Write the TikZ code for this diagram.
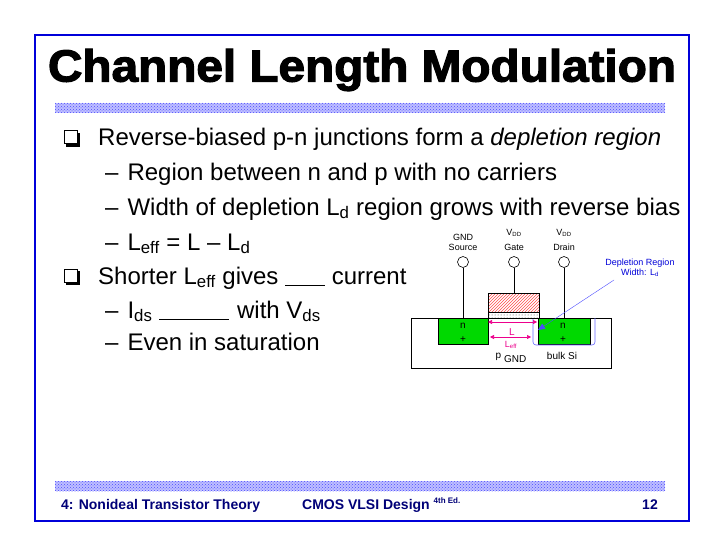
\documentclass[tikz,border=0pt]{standalone}
\usepackage{fontspec}
\setmainfont{Liberation Sans}
\newfontfamily\titlefont[FakeBold=2.5]{Liberation Sans Bold}
\usetikzlibrary{patterns,arrows.meta}
\definecolor{navy}{RGB}{0,0,120}
\begin{document}
\begin{tikzpicture}[x=1pt,y=-1pt,
  body/.style={anchor=base west,inner sep=0,font=\fontsize{24}{26}\selectfont},
  small/.style={inner sep=0,font=\fontsize{9}{10}\selectfont},
  hbar/.style={pattern=crosshatch dots,pattern color=blue!70!white},
  sq/.style={line width=1pt},
  foot/.style={inner sep=0,font=\fontsize{14}{15}\selectfont\bfseries,navy},
  mag/.style={magenta,{Triangle[length=4pt,width=4pt]}-{Triangle[length=4pt,width=4pt]},line width=0.6pt}]
\useasboundingbox (0,0) rectangle (720,540);
\fill[white] (0,0) rectangle (720,540);
\draw[blue!85!black,line width=2.5pt] (35,35) rectangle (689,521);
\node[inner sep=0,font=\fontsize{45}{50}\selectfont\titlefont,xscale=1.06] (title) at (362,70) {Channel Length Modulation};
\fill[blue!25] (55,103) rectangle (665,113);
\path[hbar] (55,103) rectangle (665,113);
\fill[blue!25] (55,481) rectangle (665,491);
\path[hbar] (55,481) rectangle (665,491);
% bullets
\fill (66,133) rectangle (80,147);
\draw[sq,fill=white] (64,131) rectangle (77,144);
\node[body] (t1) at (98,146) {Reverse-biased p-n junctions form a \textit{depletion region}};
\node[body] (t2) at (105,181) {–\hspace{9pt}Region between n and p with no carriers};
\node[body] (t3) at (105,215) {–\hspace{9pt}Width of depletion L\textsubscript{d} region grows with reverse bias};
\node[body] (t4) at (105,250) {–\hspace{9pt}L\textsubscript{eff} = L – L\textsubscript{d}};
\fill (66,271) rectangle (80,285);
\draw[sq,fill=white] (64,269) rectangle (77,282);
\node[body] (t5) at (98,284) {Shorter L\textsubscript{eff} gives \underline{\hspace{40pt}} current};
\node[body] (t6) at (105,318) {–\hspace{9pt}I\textsubscript{ds} \underline{\hspace{70pt}}\hspace{8pt}with V\textsubscript{ds}};
\node[body] (t7) at (105,350) {–\hspace{9pt}Even in saturation};
% transistor
\draw[line width=0.6pt] (411,318) rectangle (611,368);
\draw[line width=0.6pt,fill=green!85!black] (438,318) rectangle (488,344);
\draw[line width=0.6pt,fill=green!85!black] (538,318) rectangle (590,344);
\draw[blue!60,line width=0.6pt,rounded corners=3pt] (533,318) -- (533,345) -- (595,345) -- (595,318);
\draw[line width=0.6pt,pattern=north east lines,pattern color=red!70] (488,293) rectangle (539,312);
\draw[line width=0.6pt,pattern=dots,pattern color=black!70] (488,312) rectangle (539,318);
\node[small,font=\fontsize{10}{11}\selectfont] (n1) at (463,326) {n};
\node[small,font=\fontsize{10}{11}\selectfont] (p1) at (463,340) {+};
\node[small,font=\fontsize{10}{11}\selectfont] (n2) at (563,326) {n};
\node[small,font=\fontsize{10}{11}\selectfont] (p2) at (563,340) {+};
\coordinate (La) at (488,322); \coordinate (Lb) at (537,322);
\draw[mag] (La) -- (Lb);
\node[small,magenta,font=\fontsize{10}{11}\selectfont] (L) at (512,332) {L};
\coordinate (Ea) at (490,337); \coordinate (Eb) at (531,337);
\draw[mag] (Ea) -- (Eb);
\node[small,magenta] (Leff) at (511,345) {L\textsubscript{eff}};
\node[small,font=\fontsize{10}{11}\selectfont,anchor=base] (p) at (511,358) {p\raisebox{-4pt}{ GND}};
\node[small,font=\fontsize{10}{11}\selectfont,anchor=base] (bulk) at (562,359) {bulk Si};
% terminals
\node[draw,circle,minimum size=11pt,inner sep=0,line width=0.6pt] (cs) at (463,262) {};
\node[draw,circle,minimum size=11pt,inner sep=0,line width=0.6pt] (cg) at (514,262) {};
\node[draw,circle,minimum size=11pt,inner sep=0,line width=0.6pt] (cd) at (564,262) {};
\draw[line width=0.6pt] (cs) -- (463,318);
\draw[line width=0.6pt] (cg) -- (514,293);
\draw[line width=0.6pt] (cd) -- (564,318);
\node[small] (gnd) at (463,237) {GND};
\node[small] (src) at (463,247) {Source};
\node[small] (vg) at (514,233) {V\textsubscript{\fontsize{6}{6}\selectfont DD}};
\node[small] (gate) at (514,247) {Gate};
\node[small] (vd) at (564,233) {V\textsubscript{\fontsize{6}{6}\selectfont DD}};
\node[small] (drn) at (564,247) {Drain};
\node[small,blue!85!black,align=center] (dep) at (640,268) {Depletion Region\\Width: L\textsubscript{d}};
\coordinate (dt) at (538,330);
\draw[blue!70,line width=0.4pt,-{Triangle[length=7pt,width=6pt]}] (614,280) -- (dt);
% footer
\node[foot,anchor=base west] (f1) at (61,509) {4: Nonideal Transistor Theory};
\node[foot,anchor=base west] (f2) at (302,509) {CMOS VLSI Design \textsuperscript{\fontsize{8}{9}\selectfont 4th Ed.}};
\node[foot,anchor=base east] (f3) at (658,509) {12};
\end{tikzpicture}
\end{document}
